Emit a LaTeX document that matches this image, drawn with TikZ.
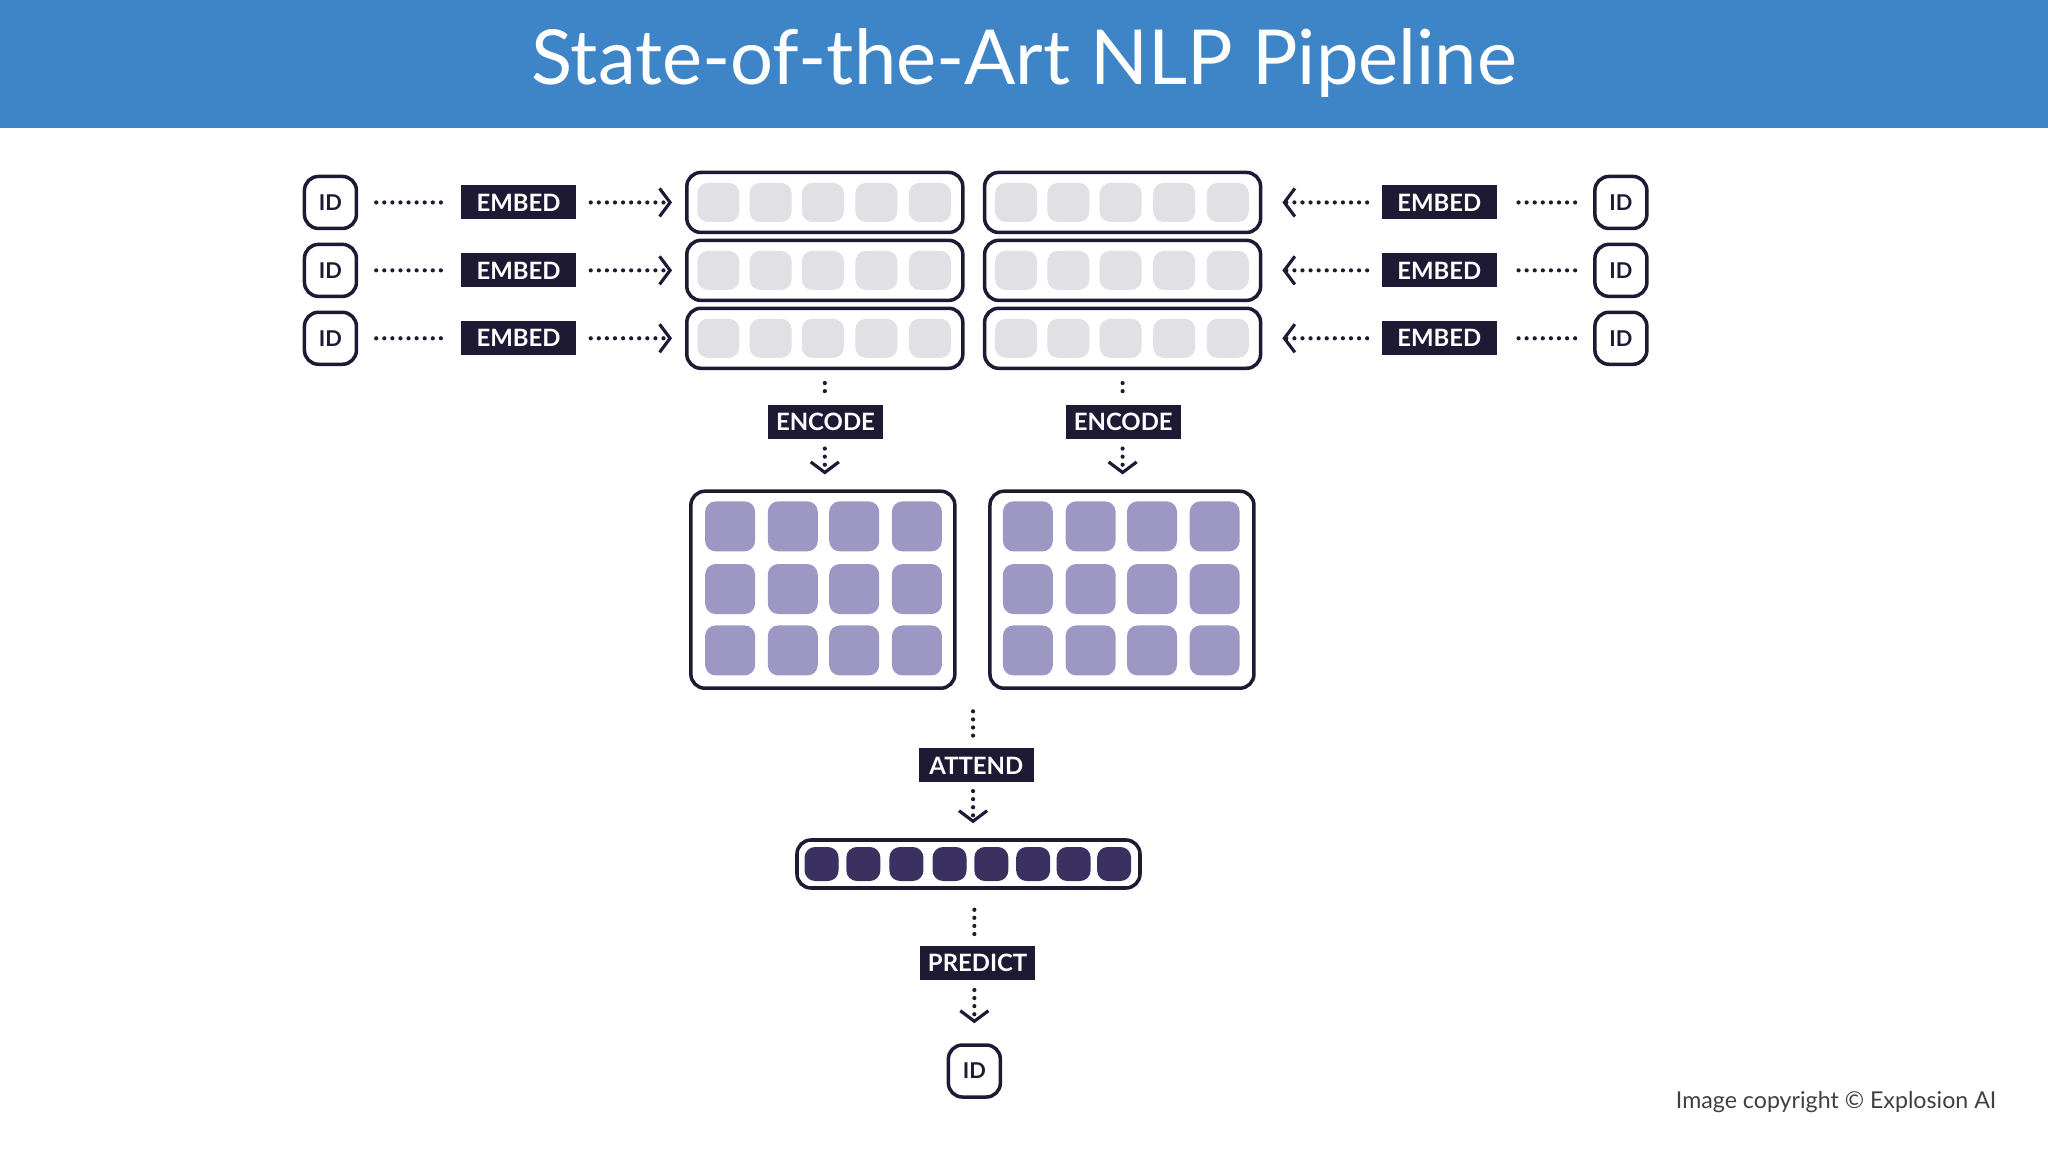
\documentclass[tikz,border=0pt]{standalone}
\usepackage{fontspec}
\setmainfont{Lato}
\usetikzlibrary{arrows.meta}
\definecolor{headblue}{HTML}{3D85C6}
\definecolor{boxdark}{HTML}{1E1A33}
\definecolor{cellgray}{HTML}{E1E0E4}
\definecolor{cellpurple}{HTML}{9D97C4}
\definecolor{celldark}{HTML}{3A3160}
\begin{document}
\begin{tikzpicture}[x=0.01306cm, y=-0.01306cm,
            idbox/.style={rectangle, draw=boxdark, line width=1pt, rounded corners=4pt, minimum width=0.52cm, minimum height=0.52cm, font=\fontsize{6.2}{7}\selectfont\bfseries, text=boxdark},
            op/.style={rectangle, fill=boxdark, text=white, minimum width=1.15cm, minimum height=0.34cm, inner sep=0pt, font=\fontsize{6.8}{8}\selectfont\bfseries},
            holder/.style={rectangle, draw=boxdark, line width=1pt, rounded corners=4pt, fill=white},
            cell/.style={rectangle, rounded corners=3pt, inner sep=0pt},
            dots/.style={line width=1.2pt, line cap=round, dash pattern=on 0pt off 2.3pt, draw=boxdark},
            arrow/.style={dots, -{Straight Barb[length=3pt, width=8pt, line width=0.9pt, line cap=butt]}}
        ]
            % Page and header
            \useasboundingbox (0,0) rectangle (1568,882);
            \fill[headblue] (0,0) rectangle (1568,98);
            \node[text=white, font=\fontsize{21.6}{24}\selectfont] (title) at (784,48) {State-of-the-Art NLP Pipeline};

            % Embedding rows, left and right
            \foreach \i/\y in {1/155,2/207,3/259} {
                \node[idbox] (idl\i) at (253,\y) {ID};
                \node[op] (embl\i) at (397,\y) {EMBED};
                \node[holder, minimum width=2.76cm, minimum height=0.60cm] (rowl\i) at (631.5,\y) {};
                \foreach \j/\x in {1/550,2/590,3/630,4/671,5/712}
                    \node[cell, fill=cellgray, minimum width=0.42cm, minimum height=0.39cm] (cl\i\j) at (\x,\y) {};
                \draw[dots, shorten <=0.18cm, shorten >=0.15cm] (idl\i) -- (embl\i);
                \draw[arrow, shorten <=0.14cm, shorten >=0.13cm] (embl\i) -- (rowl\i.west);

                \node[idbox] (idr\i) at (1241,\y) {ID};
                \node[op] (embr\i) at (1102,\y) {EMBED};
                \node[holder, minimum width=2.76cm, minimum height=0.60cm] (rowr\i) at (859.5,\y) {};
                \foreach \j/\x in {1/778,2/818,3/858,4/899,5/940}
                    \node[cell, fill=cellgray, minimum width=0.42cm, minimum height=0.39cm] (cr\i\j) at (\x,\y) {};
                \draw[dots, shorten <=0.18cm, shorten >=0.15cm] (idr\i) -- (embr\i);
                \draw[arrow, shorten <=0.14cm, shorten >=0.2cm] (embr\i) -- (rowr\i.east);
            }

            % Encoders
            \node[op] (encl) at (632,323) {ENCODE};
            \node[op] (encr) at (860,323) {ENCODE};
            \node[holder, minimum width=2.64cm, minimum height=1.97cm] (gridl) at (630,451.5) {};
            \node[holder, minimum width=2.64cm, minimum height=1.97cm] (gridr) at (859,451.5) {};
            \foreach \r/\y in {1/403,2/451,3/498} {
                \foreach \j/\x in {1/559,2/607,3/654,4/702}
                    \node[cell, fill=cellpurple, minimum size=0.50cm] (gl\r\j) at (\x,\y) {};
                \foreach \j/\x in {1/787,2/835,3/882,4/930}
                    \node[cell, fill=cellpurple, minimum size=0.50cm] (gr\r\j) at (\x,\y) {};
            }
            \draw[dots, shorten <=0.13cm, shorten >=0.09cm] (rowl3.south) -- (rowl3.south |- encl.north);
            \draw[dots, shorten <=0.13cm, shorten >=0.09cm] (rowr3.south) -- (rowr3.south |- encr.north);
            \draw[arrow, shorten <=0.09cm, shorten >=0.15cm] (encl.south -| rowl3.south) -- (rowl3.south |- gridl.north);
            \draw[arrow, shorten <=0.09cm, shorten >=0.15cm] (encr.south -| rowr3.south) -- (rowr3.south |- gridr.north);

            % Attention
            \coordinate (gridsbot) at (745,527);
            \node[op] (attend) at (747.5,586) {ATTEND};
            \node[holder, minimum width=3.43cm, minimum height=0.48cm] (bar) at (741.5,661.5) {};
            \foreach \j/\x in {1/629,2/661,3/694,4/727,5/759,6/791,7/822,8/853}
                \node[cell, fill=celldark, minimum size=0.34cm] (b\j) at (\x,661.5) {};
            \draw[dots, shorten <=0.23cm, shorten >=0.1cm] (gridsbot) -- (gridsbot |- attend.north);
            \draw[arrow, shorten <=0.08cm, shorten >=0.15cm] (gridsbot |- attend.south) -- (gridsbot |- bar.north);

            % Prediction
            \node[op] (predict) at (748.5,737.5) {PREDICT};
            \node[idbox] (idout) at (746,820) {ID};
            \draw[dots, shorten <=0.2cm, shorten >=0.09cm] (idout |- bar.south) -- (idout |- predict.north);
            \draw[arrow, shorten <=0.09cm, shorten >=0.2cm] (idout |- predict.south) -- (idout.north);

            % Credit
            \node[anchor=east, text=black!75, font=\fontsize{6.6}{8}\selectfont] (credit) at (1538,844) {Image copyright © Explosion AI};
\end{tikzpicture}
\end{document}
